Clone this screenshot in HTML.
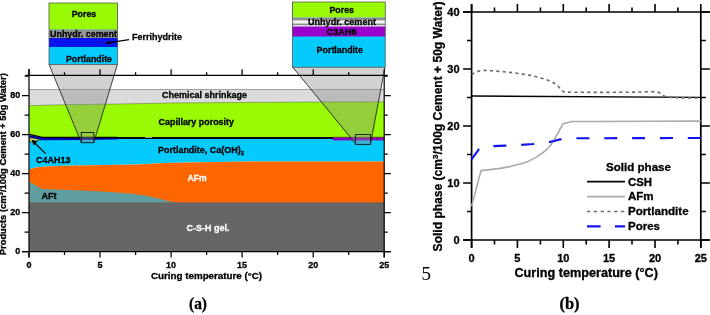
<!DOCTYPE html>
<html><head><meta charset="utf-8"><title>Figure</title>
<style>
html,body{margin:0;padding:0;background:#fff;}
svg{display:block;}
text{font-family:"Liberation Sans",Arial,sans-serif;font-weight:bold;}
.s{font-family:"Liberation Serif","Times New Roman",serif;}
</style></head><body>
<svg width="710" height="315" viewBox="0 0 710 315">
<rect width="710" height="315" fill="#fff"/>

<rect x="29.0" y="89.6" width="355.2" height="17.5" fill="#dbdbdb"/>
<line x1="29.0" y1="89.5" x2="384.2" y2="89.5" stroke="#a0a0a0" stroke-width="1"/>
<polygon fill="#99fa05" points="29.4,105.8 45,105.2 65,104.7 105,104.2 145,103.5 167,103 230,102.6 302,102.1 384.2,101.8 384.2,138 42.3,137.6 29.4,134.6"/>
<polyline fill="none" stroke="#222" stroke-opacity="0.55" stroke-width="0.6" points="29.4,105.8 45,105.2 65,104.7 105,104.2 145,103.5 167,103 230,102.6 302,102.1 384.2,101.8"/>
<polygon fill="#05cbfd" points="29.4,136 42.3,138 384.2,138 384.2,161.4 250,161.5 200,162.3 165,163 137,164.4 105,165 65,165.7 50,166.2 37,167.2 33,168.2 29.4,169.6"/>
<polygon fill="#ff6600" points="29.4,169.6 33,168.2 37,167.2 50,166.2 65,165.7 105,165 137,164.4 165,163 200,162.3 250,161.5 384.2,161.4 384.2,203 29.4,203"/>
<polygon fill="#5f9ea0" points="29.4,181.7 42.1,189 70.6,190.1 93.4,191 116,192.4 132,193.8 146,195.8 153,197.2 159.6,198.8 166,200.4 171,201.8 176,202.5 176,204 29.4,204"/>
<rect x="29.0" y="202.4" width="355.2" height="49.19999999999999" fill="#666"/>
<polygon fill="#0000a8" points="29.4,135 42.3,137.6 118,137.8 118,139.6 80,140 42.3,140.2 29.4,137.6"/>
<polygon fill="#d2dc6e" stroke="#222" stroke-width="0.6" points="29.8,137.6 41,139.8 29.8,142.2"/>
<polyline fill="none" stroke="#000" stroke-width="1.3" points="29.4,134.4 42.3,137.3 118,137.5"/>
<line x1="118" y1="138.1" x2="333" y2="138.1" stroke="#000" stroke-width="2"/>
<rect x="145" y="137" width="7" height="1" fill="#999"/>
<rect x="333" y="137.4" width="51.2" height="3" fill="#8a00b8"/>
<line x1="333" y1="137.3" x2="384.2" y2="137.3" stroke="#303" stroke-width="0.6"/>
<polygon fill="#8c8c8c" fill-opacity="0.4" stroke="none" points="49,64.4 117.4,64.4 93.8,142.6 81.3,142.6"/>
<polygon fill="#8c8c8c" fill-opacity="0.4" stroke="none" points="292.6,67 385,67 370.6,144 355.4,144"/>
<path d="M49,64.4 L81.3,142.6 M117.4,64.4 L93.8,142.6 M292.6,67 L355.4,143.4 M385,67 L370.6,143.4" stroke="#111" stroke-width="0.8" fill="none"/>
<rect x="81.3" y="132.5" width="12.5" height="10.2" fill="none" stroke="#111" stroke-width="0.9"/>
<rect x="355.4" y="134.6" width="15.2" height="9.8" fill="none" stroke="#111" stroke-width="0.9"/>
<path d="M29.0,69 V257.6 M384.2,75.3 V257.6 M25.4,75.3 H387.7 M22.0,251.6 H390.7" stroke="#000" stroke-width="1.2" fill="none"/>
<path d="M22.0,251.5 H29.0 M384.2,251.5 H390.7 M24.6,232.0 H29.0 M384.2,232.0 H387.7 M22.0,212.5 H29.0 M384.2,212.5 H390.7 M24.6,193.0 H29.0 M384.2,193.0 H387.7 M22.0,173.5 H29.0 M384.2,173.5 H390.7 M24.6,154.0 H29.0 M384.2,154.0 H387.7 M22.0,134.5 H29.0 M384.2,134.5 H390.7 M24.6,115.0 H29.0 M384.2,115.0 H387.7 M22.0,95.5 H29.0 M384.2,95.5 H390.7 M24.6,76.0 H29.0 M384.2,76.0 H387.7 M29.0,251.6 V257.6 M29.0,75.3 V69.3 M64.5,251.6 V255.1 M64.5,75.3 V72.3 M100.0,251.6 V257.6 M100.0,75.3 V69.3 M135.6,251.6 V255.1 M135.6,75.3 V72.3 M171.1,251.6 V257.6 M171.1,75.3 V69.3 M206.6,251.6 V255.1 M206.6,75.3 V72.3 M242.1,251.6 V257.6 M242.1,75.3 V69.3 M277.6,251.6 V255.1 M277.6,75.3 V72.3 M313.2,251.6 V257.6 M313.2,75.3 V69.3 M348.7,251.6 V255.1 M348.7,75.3 V72.3 M384.2,251.6 V257.6 M384.2,75.3 V69.3 " stroke="#000" stroke-width="1.25" fill="none"/>
<rect x="49" y="3" width="68.4" height="61.4" fill="#05cbfd"/>
<rect x="49" y="3" width="68.4" height="26.6" fill="#99fa05"/>
<rect x="49" y="29.6" width="68.4" height="8.4" fill="#969696"/>
<rect x="49" y="38" width="68.4" height="9" fill="#0a14ee"/>
<rect x="49" y="3" width="68.4" height="61.4" fill="none" stroke="#444" stroke-width="0.7"/>
<rect x="292.6" y="2" width="92.6" height="65.2" fill="#05cbfd"/>
<rect x="292.6" y="2" width="92.6" height="15.6" fill="#99fa05"/>
<rect x="292.6" y="17.6" width="92.6" height="9.4" fill="#f2f2f2"/>
<rect x="292.6" y="17.6" width="92.6" height="2.8" fill="#8c8c8c"/>
<rect x="292.6" y="23.6" width="92.6" height="1.6" fill="#8c8c8c"/>
<rect x="292.6" y="26.5" width="92.6" height="10" fill="#9a00cc"/>
<rect x="292.6" y="2" width="92.6" height="65.2" fill="none" stroke="#444" stroke-width="0.7"/>
<text x="71.7" y="17.4" font-size="9.6" textLength="24.6" lengthAdjust="spacingAndGlyphs" stroke="#000" stroke-width="0.3">Pores</text>
<text x="50" y="37.4" font-size="9.6" textLength="67" lengthAdjust="spacingAndGlyphs" stroke="#000" stroke-width="0.3">Unhydr. cement</text>
<text x="66" y="61.8" font-size="9.6" textLength="46" lengthAdjust="spacingAndGlyphs" stroke="#000" stroke-width="0.3">Portlandite</text>
<text x="132" y="40" font-size="9" textLength="50" lengthAdjust="spacingAndGlyphs" stroke="#000" stroke-width="0.3">Ferrihydrite</text>
<text x="329.4" y="12.8" font-size="9" textLength="24.6" lengthAdjust="spacingAndGlyphs" stroke="#000" stroke-width="0.3">Pores</text>
<text x="308" y="24.5" font-size="9" textLength="68" lengthAdjust="spacingAndGlyphs" stroke="#000" stroke-width="0.3">Unhydr. cement</text>
<text x="326.6" y="34.7" font-size="9" textLength="30" lengthAdjust="spacingAndGlyphs" stroke="#000" stroke-width="0.3">C3AH6</text>
<text x="316.6" y="53" font-size="9" textLength="46.4" lengthAdjust="spacingAndGlyphs" stroke="#000" stroke-width="0.3">Portlandite</text>
<text x="162" y="98.4" font-size="9" textLength="85" lengthAdjust="spacingAndGlyphs" stroke="#000" stroke-width="0.3">Chemical shrinkage</text>
<text x="158.6" y="125" font-size="9" textLength="75.4" lengthAdjust="spacingAndGlyphs" stroke="#000" stroke-width="0.3">Capillary porosity</text>
<text x="158" y="152.6" font-size="9" textLength="86" lengthAdjust="spacingAndGlyphs" stroke="#000" stroke-width="0.3">Portlandite, Ca(OH)<tspan font-size="6" dy="2">2</tspan></text>
<text x="187.4" y="180.6" font-size="9" textLength="19.2" lengthAdjust="spacingAndGlyphs" fill="#fff" stroke="#fff" stroke-width="0.3">AFm</text>
<text x="186.6" y="231" font-size="9" textLength="42.8" lengthAdjust="spacingAndGlyphs" fill="#fff" stroke="#fff" stroke-width="0.3">C-S-H gel.</text>
<text x="41.4" y="199" font-size="9" textLength="15.2" lengthAdjust="spacingAndGlyphs" stroke="#000" stroke-width="0.3">AFt</text>
<text x="36" y="162.6" font-size="9" textLength="34.4" lengthAdjust="spacingAndGlyphs" stroke="#000" stroke-width="0.3">C4AH13</text>
<path d="M129,39.6 L108,42.9" stroke="#000" stroke-width="1.1" fill="none"/>
<polygon points="104.6,43.5 110,40.6 110.6,44.6" fill="#000"/>
<path d="M45.6,153.6 L34,142.2" stroke="#000" stroke-width="1.2" fill="none"/>
<polygon points="31.6,139.8 37.4,141.6 33.6,145.4" fill="#000"/>
<text x="20.2" y="254.0" font-size="9" stroke="#000" stroke-width="0.3" text-anchor="end">0</text>
<text x="20.2" y="215.0" font-size="9" stroke="#000" stroke-width="0.3" text-anchor="end">20</text>
<text x="20.2" y="176.0" font-size="9" stroke="#000" stroke-width="0.3" text-anchor="end">40</text>
<text x="20.2" y="137.0" font-size="9" stroke="#000" stroke-width="0.3" text-anchor="end">60</text>
<text x="20.2" y="98.0" font-size="9" stroke="#000" stroke-width="0.3" text-anchor="end">80</text>
<text x="29.0" y="268" font-size="9" stroke="#000" stroke-width="0.3" text-anchor="middle">0</text>
<text x="100.0" y="268" font-size="9" stroke="#000" stroke-width="0.3" text-anchor="middle">5</text>
<text x="171.1" y="268" font-size="9" stroke="#000" stroke-width="0.3" text-anchor="middle">10</text>
<text x="242.1" y="268" font-size="9" stroke="#000" stroke-width="0.3" text-anchor="middle">15</text>
<text x="313.2" y="268" font-size="9" stroke="#000" stroke-width="0.3" text-anchor="middle">20</text>
<text x="384.2" y="268" font-size="9" stroke="#000" stroke-width="0.3" text-anchor="middle">25</text>
<text x="151" y="279" font-size="9.7" textLength="111" lengthAdjust="spacingAndGlyphs" stroke="#000" stroke-width="0.3">Curing temperature (°C)</text>
<text transform="translate(6.4,255.2) rotate(-90)" font-size="9.3" stroke="#000" stroke-width="0.3" textLength="182" lengthAdjust="spacingAndGlyphs">Products (cm<tspan font-size="6" dy="-3">3</tspan><tspan dy="3">/100g Cement + 50g Water)</tspan></text>
<text x="189" y="309" font-size="16" textLength="18" lengthAdjust="spacingAndGlyphs" stroke="#000" stroke-width="0.3" class="s">(a)</text>
<path d="M471.6,4 V248 M700.8,12 V248 M463.1,12 H709.8 M463.1,240 H709.8" stroke="#000" stroke-width="1.7" fill="none"/>
<path d="M463.1,240.0 H471.6 M700.8,240.0 H709.8 M467.0,211.5 H471.6 M700.8,211.5 H705.8 M463.1,183.0 H471.6 M700.8,183.0 H709.8 M467.0,154.5 H471.6 M700.8,154.5 H705.8 M463.1,126.0 H471.6 M700.8,126.0 H709.8 M467.0,97.5 H471.6 M700.8,97.5 H705.8 M463.1,69.0 H471.6 M700.8,69.0 H709.8 M467.0,40.5 H471.6 M700.8,40.5 H705.8 M463.1,12.0 H471.6 M700.8,12.0 H709.8 M471.6,240 V248 M471.6,12 V4 M494.5,240 V244.4 M494.5,12 V7.6 M517.4,240 V248 M517.4,12 V4 M540.4,240 V244.4 M540.4,12 V7.6 M563.3,240 V248 M563.3,12 V4 M586.2,240 V244.4 M586.2,12 V7.6 M609.1,240 V248 M609.1,12 V4 M632.0,240 V244.4 M632.0,12 V7.6 M655.0,240 V248 M655.0,12 V4 M677.9,240 V244.4 M677.9,12 V7.6 M700.8,240 V248 M700.8,12 V4 " stroke="#000" stroke-width="1.6" fill="none"/>
<line x1="471.6" y1="96" x2="700.8" y2="97.4" stroke="#000" stroke-width="1.4"/>
<polyline fill="none" stroke="#aaaaaa" stroke-width="1.6" stroke-linejoin="round" points="471.6,206.4 481,170.6 490,169.6 500,168.4 510,166.6 520,164 528,161.4 536,157.4 541,154 546,150.2 550,146 554,140 558,133 563,123.8 572,121.5 600,121.5 650,121.3 700.8,121.1"/>
<polyline fill="none" stroke="#6a6a6a" stroke-width="1.6" stroke-dasharray="3.2 3.2" points="471.6,74.6 476,72 480,70.8 484,70.4 492,70.8 500,71.4 510,72.4 520,73.6 530,75.4 540,77.6 548,80.2 554,83 558,86 561,89.4 563.4,91.8 570,92.2 600,92.4 630,92.2 656,91.6 660,93 664,96 668,97.2 680,97.8 700.8,98"/>
<polyline fill="none" stroke="#1414f0" stroke-width="2.1" stroke-dasharray="13 14.85" points="471.6,159.4 479.4,148.4 481,147.4 492,146.2 505,145.6 520,145 533,144 541,143.2 547.6,142.4 554,141 560,139.4 567,138.4 575,138.2 600,138.2 700.8,138"/>
<text x="606" y="170.6" font-size="11.5" textLength="65" lengthAdjust="spacingAndGlyphs" stroke="#000" stroke-width="0.3">Solid phase</text>
<line x1="587" y1="181.6" x2="625" y2="181.6" stroke="#000" stroke-width="1.8"/>
<text x="628" y="185.6" font-size="11.5" textLength="24" lengthAdjust="spacingAndGlyphs" stroke="#000" stroke-width="0.3">CSH</text>
<line x1="587" y1="196.6" x2="625" y2="196.6" stroke="#aaaaaa" stroke-width="1.6"/>
<text x="628" y="200" font-size="11.5" textLength="25.6" lengthAdjust="spacingAndGlyphs" stroke="#000" stroke-width="0.3">AFm</text>
<line x1="587" y1="211.4" x2="625" y2="211.4" stroke="#6a6a6a" stroke-width="1.5" stroke-dasharray="3.2 3.6"/>
<text x="628" y="215" font-size="11.5" textLength="60.6" lengthAdjust="spacingAndGlyphs" stroke="#000" stroke-width="0.3">Portlandite</text>
<path d="M587,226.4 H600.6 M615,226.4 H625" stroke="#1414f0" stroke-width="2.1" fill="none"/>
<text x="628" y="229.6" font-size="11.5" textLength="32" lengthAdjust="spacingAndGlyphs" stroke="#000" stroke-width="0.3">Pores</text>
<text x="459.6" y="243.7" font-size="11" stroke="#000" stroke-width="0.3" text-anchor="end">0</text>
<text x="459.6" y="186.7" font-size="11" stroke="#000" stroke-width="0.3" text-anchor="end">10</text>
<text x="459.6" y="129.7" font-size="11" stroke="#000" stroke-width="0.3" text-anchor="end">20</text>
<text x="459.6" y="72.7" font-size="11" stroke="#000" stroke-width="0.3" text-anchor="end">30</text>
<text x="459.6" y="15.7" font-size="11" stroke="#000" stroke-width="0.3" text-anchor="end">40</text>
<text x="471.6" y="262" font-size="11" stroke="#000" stroke-width="0.3" text-anchor="middle">0</text>
<text x="517.4" y="262" font-size="11" stroke="#000" stroke-width="0.3" text-anchor="middle">5</text>
<text x="563.3" y="262" font-size="11" stroke="#000" stroke-width="0.3" text-anchor="middle">10</text>
<text x="609.1" y="262" font-size="11" stroke="#000" stroke-width="0.3" text-anchor="middle">15</text>
<text x="655.0" y="262" font-size="11" stroke="#000" stroke-width="0.3" text-anchor="middle">20</text>
<text x="700.8" y="262" font-size="11" stroke="#000" stroke-width="0.3" text-anchor="middle">25</text>
<text x="514.4" y="276.8" font-size="12" textLength="143.6" lengthAdjust="spacingAndGlyphs" stroke="#000" stroke-width="0.3">Curing temperature (°C)</text>
<text transform="translate(442.2,251.4) rotate(-90)" font-size="12" stroke="#000" stroke-width="0.3" textLength="250" lengthAdjust="spacingAndGlyphs">Solid phase (cm<tspan font-size="8" dy="-4">3</tspan><tspan dy="4">/100g Cement + 50g Water)</tspan></text>
<text x="559.4" y="309" font-size="16.5" textLength="20.2" lengthAdjust="spacingAndGlyphs" stroke="#000" stroke-width="0.3" class="s">(b)</text>
<text x="421.6" y="280.2" font-size="19" class="s" style="font-weight:normal">5</text>
</svg></body></html>
